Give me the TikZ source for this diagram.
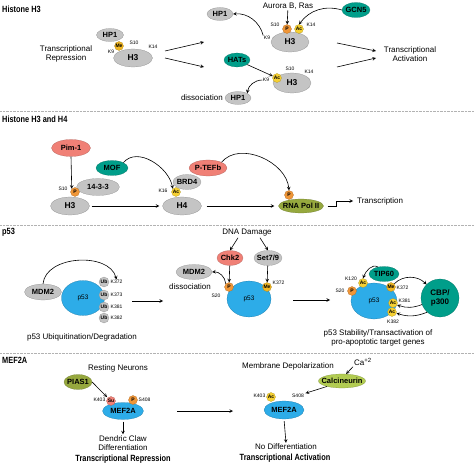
\documentclass[tikz,border=0pt]{standalone}
\usepackage{fontspec}
\setmainfont{Liberation Sans}
\newfontfamily\headfont{Liberation Sans}[FakeStretch=0.82]
\usetikzlibrary{shapes,arrows,positioning,calc}
\definecolor{protgray}{RGB}{196,196,196}
\definecolor{protteal}{RGB}{0,158,138}
\definecolor{protsalmon}{RGB}{240,128,118}
\definecolor{protblue}{RGB}{45,172,232}
\definecolor{protolive}{RGB}{150,168,62}
\definecolor{protlime}{RGB}{178,204,82}
\definecolor{modorange}{RGB}{240,150,55}
\definecolor{modyellow}{RGB}{246,208,50}
\definecolor{modme}{RGB}{240,182,35}

\begin{document}
\begin{tikzpicture}[x=1pt, y=1pt,
    prot/.style={ellipse, inner sep=0pt, very thin, font=\fontsize{7.5}{8}\selectfont\bfseries,
        execute at begin node={\setbox0=\hbox\bgroup},
        execute at end node={\egroup\hbox to 0pt{\hss\box0\hss}}},
    dims/.style 2 args={minimum width=#1pt, minimum height=#2pt},
    grayp/.style={prot, fill=protgray, draw=protgray!70!black},
    tealp/.style={prot, fill=protteal, draw=protteal!70!black},
    salmonp/.style={prot, fill=protsalmon, draw=protsalmon!70!black},
    bluep/.style={prot, fill=protblue, draw=protblue!70!black},
    olivep/.style={prot, fill=protolive, draw=protolive!70!black},
    limep/.style={prot, fill=protlime, draw=protlime!70!black},
    histone/.style={font=\fontsize{8.5}{9}\selectfont\bfseries},
    mod/.style={circle, inner sep=0pt, minimum size=9pt, very thin, font=\fontsize{5}{5}\selectfont\bfseries},
    pmod/.style={mod, fill=modorange, draw=modorange!70!black},
    acmod/.style={mod, fill=modyellow, draw=modyellow!70!black},
    memod/.style={mod, fill=modme, draw=modme!70!black},
    sumod/.style={mod, fill=protsalmon, draw=protsalmon!70!black},
    ubmod/.style={mod, minimum size=10pt, fill=protgray, draw=protgray!70!black},
    lbl/.style={font=\fontsize{5}{6}\selectfont, inner sep=0.5pt},
    txt/.style={font=\fontsize{8}{9}\selectfont, align=center, inner sep=1pt},
    headtxt/.style={font=\headfont\bfseries\fontsize{9}{10}\selectfont, inner sep=0pt},
    sep/.style={gray!60, densely dotted, thin},
    arrow/.style={-stealth, semithick}
]
    \useasboundingbox (0,0) rectangle (474,-465);

    % Histone H3
    \node[headtxt, anchor=west] (headA) at (2,-9) {Histone H3};
    \node[grayp, histone, dims={39}{18}] (h3a) at (133,-58) {H3};
    \node[grayp, dims={27}{13}] (hp1a) at (110,-35) {HP1};
    \node[memod] (mea) at (119,-46) {Me};
    \node[lbl] (s10a) at (134,-43) {S10};
    \node[lbl] (k9a) at (111,-52) {K9};
    \node[lbl] (k14a) at (153,-47) {K14};
    \node[txt] (repA) at (66,-54) {Transcriptional\\Repression};
    \coordinate (forkA1) at (165,-51);
    \coordinate (forkA2) at (165,-58);
    \coordinate (tipA1) at (204,-42);
    \coordinate (tipA2) at (204,-67);

    \node[grayp, histone, dims={38}{20}] (h3b) at (290,-42) {H3};
    \node[grayp, dims={26}{13}] (hp1b) at (220,-14) {HP1};
    \node[tealp, dims={28}{15}] (gcn5) at (356,-10) {GCN5};
    \node[pmod] (pb) at (287,-29) {P};
    \node[acmod] (acb) at (299,-29) {Ac};
    \node[txt] (aurora) at (288,-6) {Aurora B, Ras};
    \node[lbl] (s10b) at (275,-25) {S10};
    \node[lbl] (k14b) at (311,-25) {K14};
    \node[lbl] (k9b) at (267,-38) {K9};

    \node[grayp, histone, dims={38}{20}] (h3c) at (292,-83) {H3};
    \node[tealp, dims={26}{14}] (hats) at (237,-60) {HATs};
    \node[acmod] (acc) at (277,-78) {Ac};
    \node[grayp, dims={26}{13}] (hp1c) at (238,-98) {HP1};
    \node[lbl] (s10c) at (290,-69) {S10};
    \node[lbl] (k14c) at (309,-72) {K14};
    \node[lbl] (k9c) at (266,-80) {K9};
    \node[txt, anchor=east] (dissA) at (224,-98) {dissociation};

    \node[txt] (actA) at (410,-54) {Transcriptional\\Activation};
    \coordinate (forkB1) at (337,-43);
    \coordinate (forkB2) at (337,-67);
    \coordinate (tipB1) at (376,-51);
    \coordinate (tipB2) at (376,-58);

    \draw[arrow] (forkA1) -- (tipA1);
    \draw[arrow] (forkA2) -- (tipA2);
    \draw[arrow] (aurora) -- (pb);
    \draw[arrow] (gcn5.west) to[bend right=35] (acb.north);
    \draw[arrow] (k9b.north west) to[bend right=40] (hp1b.east);
    \draw[arrow] (hats) -- (acc);
    \draw[arrow] (k9c.west) to[bend right=40] (hp1c.north east);
    \draw[arrow] (forkB1) -- (tipB1);
    \draw[arrow] (forkB2) -- (tipB2);

    \draw[sep] (0,-111) -- (474,-111);

    % Histone H3 and H4
    \node[headtxt, anchor=west] (headB) at (2,-119) {Histone H3 and H4};
    \node[grayp, histone, dims={39}{18}] (h3d) at (70,-206) {H3};
    \node[grayp, dims={43}{17}] (p1433) at (98,-187) {14-3-3};
    \node[tealp, dims={32}{15}] (mof) at (112,-168) {MOF};
    \node[salmonp, dims={39}{17}] (pim) at (71,-148) {Pim-1};
    \node[pmod] (pd) at (75,-192) {P};
    \node[lbl] (s10d) at (63,-189) {S10};
    \node[grayp, histone, dims={39}{18}] (h4) at (182,-206) {H4};
    \node[grayp, dims={28}{15}] (brd4) at (187,-182) {BRD4};
    \node[salmonp, dims={38}{16}] (ptefb) at (208,-168) {P-TEFb};
    \node[acmod] (ace) at (176,-192) {Ac};
    \node[lbl] (k16) at (163,-191) {K16};
    \node[olivep, dims={45}{14}] (pol) at (301,-206) {RNA Pol II};
    \node[pmod] (pf) at (289,-195) {P};
    \node[txt, anchor=west] (transB) at (356,-201) {Transcription};

    \draw[arrow] (pim.south) -- (pd.north west);
    \draw[arrow] (mof.north east) to[out=50, in=100] (ace.north west);
    \draw[arrow] (ptefb.north east) to[out=50, in=95] (pf.north);
    \draw[arrow, shorten <=2pt, shorten >=3pt] (h3d) -- (h4);
    \draw[arrow, shorten <=5pt, shorten >=4pt] (h4) -- (pol);
    \draw[arrow, shorten >=3pt] ([xshift=4pt]pol.east) -- ++(9,0) |- (transB.west);

    \draw[sep] (0,-225) -- (474,-225);

    % p53
    \node[headtxt, anchor=west] (headC) at (2,-232) {p53};
    \node[bluep, dims={43}{35}, font=\fontsize{6.5}{7}\selectfont] (p53a) at (83,-298) {p53};
    \node[grayp, dims={37}{16}] (mdm2a) at (43,-292) {MDM2};
    \foreach \y/\k in {282/372, 295/373, 307/381, 318/382} {
        \node[ubmod] (ub\k) at (104,-\y) {Ub};
        \node[lbl, anchor=west] (k\k) at (110,-\y) {K\k};
    }
    \node[txt] (ubdeg) at (82,-337) {p53 Ubiquitination/Degradation};
    \coordinate (flowC1) at (132,-301);
    \coordinate (flowC2) at (163,-301);

    \node[bluep, dims={44}{36}, font=\fontsize{6.5}{7}\selectfont] (p53b) at (249,-299) {p53};
    \node[salmonp, dims={26}{15}] (chk2) at (230,-258) {Chk2};
    \node[grayp, dims={28}{15}] (set79) at (268,-258) {Set7/9};
    \node[txt] (dna) at (247,-233) {DNA Damage};
    \node[pmod] (pg) at (229,-287) {P};
    \node[memod] (meg) at (267,-287) {Me};
    \node[lbl] (s20b) at (216,-296) {S20};
    \node[lbl, anchor=west] (k372b) at (272,-283) {K372};
    \node[grayp, dims={36}{15}] (mdm2b) at (194,-272) {MDM2};
    \node[txt] (dissB) at (190,-287) {dissociation};
    \coordinate (flowC3) at (293,-300);
    \coordinate (flowC4) at (330,-300);

    \node[bluep, dims={46}{36}, font=\fontsize{6.5}{7}\selectfont] (p53c) at (374,-301) {p53};
    \node[tealp, dims={30}{15}] (tip60) at (384,-274) {TIP60};
    \node[acmod] (ac120) at (363,-283) {Ac};
    \node[pmod] (pc) at (352,-291) {P};
    \node[memod] (me372) at (391,-287) {Me};
    \node[acmod] (ac381) at (393,-303) {Ac};
    \node[acmod] (ac382) at (392,-312) {Ac};
    \node[lbl] (k120) at (351,-279) {K120};
    \node[lbl] (s20c) at (340,-291) {S20};
    \node[lbl, anchor=west] (k372c) at (396,-288) {K372};
    \node[lbl, anchor=west] (k381c) at (398,-301) {K381};
    \node[lbl] (k382c) at (393,-322) {K382};
    \node[circle, fill=protteal, draw=protteal!70!black, very thin, minimum size=38pt, inner sep=0pt,
        align=center, font=\fontsize{8}{9}\selectfont\bfseries] (cbp) at (440,-298) {CBP/\\p300};
    \node[txt] (stabC) at (378,-338) {p53 Stability/Transactivation of\\pro-apoptotic target genes};

    \draw[arrow] (mdm2a.north) to[out=85, in=105] (k372.north);
    \draw[arrow] (flowC1) -- (flowC2);
    \draw[arrow] ([xshift=-9pt]dna.south) -- (chk2.north);
    \draw[arrow] ([xshift=13pt]dna.south) -- (set79.north);
    \draw[arrow] (chk2) -- (pg);
    \draw[arrow] (set79) -- (meg);
    \draw[arrow] (pg.north west) to[bend right=45] (mdm2b.east);
    \draw[arrow] (flowC3) -- (flowC4);
    \draw[arrow] (tip60.130) to[out=150, in=70] (ac120.north);
    \draw[arrow] (me372.north east) to[out=45, in=135] (cbp.north west);
    \draw[arrow] (cbp.200) to[bend left=20] (ac381.-25);
    \draw[arrow] (cbp.228) to[bend left=20] (ac382.-15);

    \draw[sep] (0,-353) -- (474,-353);

    % MEF2A
    \node[headtxt, anchor=west] (headD) at (2,-360) {MEF2A};
    \node[txt] (restD) at (118,-368) {Resting Neurons};
    \node[olivep, dims={28}{15}] (pias1) at (78,-382) {PIAS1};
    \node[bluep, dims={41}{17}] (mef2a) at (123,-411) {MEF2A};
    \node[sumod] (su) at (111,-401) {Su};
    \node[pmod] (ph) at (133,-400) {P};
    \node[lbl, anchor=east] (k403a) at (106,-400) {K403};
    \node[lbl, anchor=west] (s408a) at (138,-400) {S408};
    \node[txt] (claw) at (123,-443) {Dendric Claw\\Differentiation};
    \node[headtxt] (repD) at (123,-459) {Transcriptional Repression};
    \coordinate (flowD1) at (177,-411);
    \coordinate (flowD2) at (233,-411);

    \node[txt] (membD) at (288,-366) {Membrane Depolarization};
    \node[txt] (caD) at (363,-362) {Ca\textsuperscript{+2}};
    \node[limep, dims={47}{14}] (calc) at (342,-381) {Calcineurin};
    \node[bluep, dims={40}{18}] (mef2b) at (284,-410) {MEF2A};
    \node[acmod] (acm) at (271,-397) {Ac};
    \node[lbl, anchor=east] (k403b) at (266,-396) {K403};
    \node[lbl] (s408b) at (298,-396) {S408};
    \node[txt] (nodiff) at (286,-447) {No Differentiation};
    \node[headtxt] (actD) at (285,-458) {Transcriptional Activation};

    \draw[arrow, shorten >=1pt] (pias1.east) -- (su.north west);
    \draw[arrow, shorten <=2pt] (mef2a.south) -- (claw.north);
    \draw[arrow] (flowD1) -- (flowD2);
    \draw[arrow] (caD.south west) -- (calc.60);
    \draw[arrow, shorten >=1pt] (calc.200) -- (s408b.north east);
    \draw[arrow, shorten <=2pt] (mef2b.south) -- (nodiff.north);
\end{tikzpicture}
\end{document}
